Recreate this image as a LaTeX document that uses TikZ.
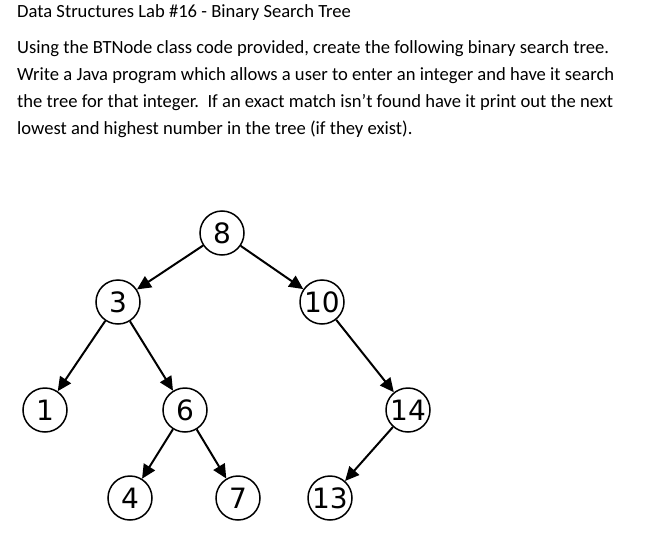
\documentclass[tikz,border=0pt]{standalone}
\usepackage{fontspec}
\setmainfont{Carlito}
\newfontfamily\numfont{DejaVu Sans}
\usetikzlibrary{arrows.meta}
\begin{document}
\begin{tikzpicture}[x=1pt,y=-1pt,
  txt/.style={anchor=base west,inner sep=0pt,font=\fontsize{18.6}{21}\selectfont},
  tn/.style={circle,draw,line width=1.5pt,minimum size=44pt,inner sep=0pt,font=\numfont\fontsize{28}{30}\selectfont},
  edge/.style={line width=2pt,-{Triangle[length=14pt,width=13pt]}}]
\useasboundingbox (0,0) rectangle (647,559);
\node[txt] (t0) at (17,18) {Data Structures Lab \#16 - Binary Search Tree};
\node[txt] (t1) at (17,54) {Using the BTNode class code provided, create the following binary search tree.};
\node[txt] (t2) at (17,81) {Write a Java program which allows a user to enter an integer and have it search};
\node[txt] (t3) at (17,108) {the tree for that integer.\ \ If an exact match isn’t found have it print out the next};
\node[txt] (t4) at (17,135) {lowest and highest number in the tree (if they exist).};
\node[tn] (n8) at (222,233) {8};
\node[tn] (n3) at (118,302) {3};
\node[tn] (n10) at (322,302) {10};
\node[tn] (n1) at (45,410) {1};
\node[tn] (n6) at (185,410) {6};
\node[tn] (n14) at (408,410) {14};
\node[tn] (n4) at (130,498) {4};
\node[tn] (n7) at (238,498) {7};
\node[tn] (n13) at (330,498) {13};
\draw[edge] (n8) -- (n3);
\draw[edge] (n8) -- (n10);
\draw[edge] (n3) -- (n1);
\draw[edge] (n3) -- (n6);
\draw[edge] (n10) -- (n14);
\draw[edge] (n6) -- (n4);
\draw[edge] (n6) -- (n7);
\draw[edge] (n14) -- (n13);
\end{tikzpicture}
\end{document}
